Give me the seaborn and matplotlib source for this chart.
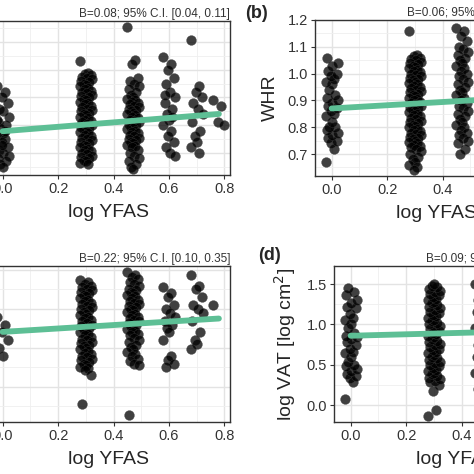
import matplotlib
matplotlib.use("Agg")
import matplotlib.pyplot as plt
from matplotlib.ticker import AutoMinorLocator, MultipleLocator, FormatStrFormatter
import seaborn as sns
import pandas as pd

# log YFAS group centres and per-group outcome values
yfas_levels = [0.0, 0.30, 0.47, 0.60, 0.70, 0.78]

bmi_groups = [
    [1.44, 1.42, 1.40, 1.38, 1.36, 1.35, 1.33, 1.31, 1.30, 1.29, 1.27, 1.26, 1.25,
     1.24, 1.22, 1.21, 1.20, 1.19, 1.18, 1.17, 1.16, 1.15, 1.32, 1.28, 1.23],
    [1.53, 1.49, 1.485, 1.48, 1.475, 1.47, 1.465, 1.46, 1.455, 1.45, 1.445, 1.44, 1.435,
     1.43, 1.425, 1.42, 1.415, 1.41, 1.405, 1.40, 1.395, 1.39, 1.385, 1.38, 1.375,
     1.37, 1.365, 1.36, 1.355, 1.35, 1.345, 1.34, 1.335, 1.33, 1.325, 1.32, 1.315,
     1.31, 1.305, 1.30, 1.295, 1.29, 1.285, 1.28, 1.275, 1.27, 1.265, 1.26, 1.255,
     1.25, 1.245, 1.24, 1.235, 1.23, 1.225, 1.22, 1.215, 1.21, 1.205, 1.20, 1.195,
     1.19, 1.185, 1.18, 1.175, 1.17, 1.165, 1.16],
    [1.655, 1.535, 1.52, 1.47, 1.46, 1.45, 1.44, 1.43, 1.42, 1.41, 1.40, 1.395, 1.39,
     1.385, 1.38, 1.375, 1.37, 1.365, 1.36, 1.355, 1.35, 1.345, 1.34, 1.335, 1.33,
     1.325, 1.32, 1.315, 1.31, 1.305, 1.30, 1.295, 1.29, 1.285, 1.28, 1.275, 1.27,
     1.265, 1.26, 1.255, 1.25, 1.245, 1.24, 1.235, 1.23, 1.225, 1.22, 1.21, 1.20,
     1.19, 1.18, 1.17, 1.16, 1.15, 1.14],
    [1.545, 1.52, 1.50, 1.47, 1.45, 1.42, 1.40, 1.38, 1.36, 1.34, 1.32, 1.30, 1.28,
     1.26, 1.24, 1.22, 1.20, 1.19, 1.41, 1.33],
    [1.607, 1.44, 1.42, 1.40, 1.38, 1.36, 1.34, 1.31, 1.28, 1.26, 1.24, 1.22, 1.20],
    [1.39, 1.37, 1.31, 1.30],
]

whr_groups = [
    [0.67, 0.72, 0.74, 0.75, 0.76, 0.77, 0.78, 0.79, 0.80, 0.80, 0.82, 0.84, 0.85,
     0.86, 0.87, 0.88, 0.89, 0.90, 0.91, 0.92, 0.94, 0.96, 0.97, 0.98, 0.99, 1.00,
     1.01, 1.03, 1.04, 1.06],
    [1.16, 1.07, 1.065, 1.06, 1.055, 1.05, 1.045, 1.04, 1.035, 1.03, 1.025, 1.02,
     1.015, 1.01, 1.005, 1.00, 0.995, 0.99, 0.985, 0.98, 0.975, 0.97, 0.965, 0.96,
     0.955, 0.95, 0.945, 0.94, 0.935, 0.93, 0.925, 0.92, 0.915, 0.91, 0.905, 0.90,
     0.895, 0.89, 0.885, 0.88, 0.875, 0.87, 0.865, 0.86, 0.855, 0.85, 0.845, 0.84,
     0.835, 0.83, 0.825, 0.82, 0.815, 0.81, 0.805, 0.80, 0.795, 0.79, 0.785, 0.78,
     0.775, 0.77, 0.765, 0.76, 0.755, 0.75, 0.745, 0.74, 0.735, 0.73, 0.725, 0.72,
     0.71, 0.70, 0.69, 0.68, 0.67, 0.66, 0.65, 0.64],
    [1.17, 1.16, 1.14, 1.12, 1.10, 1.09, 1.08, 1.07, 1.06, 1.05, 1.04, 1.03, 1.02,
     1.01, 1.00, 0.99, 0.98, 0.97, 0.96, 0.95, 0.94, 0.93, 0.92, 0.91, 0.90, 0.89,
     0.88, 0.87, 0.86, 0.85, 0.84, 0.83, 0.82, 0.81, 0.80, 0.79, 0.78, 0.77, 0.76,
     0.75, 0.74, 0.72, 0.70],
    [], [], [],
]

sat_groups = [
    [2.9, 2.8, 2.7, 2.6, 2.5, 2.4],
    [3.37, 3.34, 3.32, 3.30, 3.28, 3.26, 3.24, 3.22, 3.20, 3.18, 3.16, 3.14, 3.12,
     3.10, 3.08, 3.06, 3.04, 3.02, 3.00, 2.98, 2.96, 2.94, 2.92, 2.90, 2.88, 2.86,
     2.84, 2.82, 2.80, 2.78, 2.76, 2.74, 2.72, 2.70, 2.68, 2.66, 2.64, 2.62, 2.60,
     2.58, 2.56, 2.54, 2.52, 2.50, 2.48, 2.46, 2.44, 2.42, 2.40, 2.38, 2.36, 2.34,
     2.32, 2.30, 2.28, 2.26, 2.24, 2.22, 2.15, 1.78],
    [3.47, 3.44, 3.41, 3.38, 3.35, 3.32, 3.29, 3.26, 3.24, 3.22, 3.20, 3.18, 3.16,
     3.14, 3.12, 3.10, 3.08, 3.06, 3.04, 3.02, 3.00, 2.98, 2.96, 2.94, 2.92, 2.90,
     2.88, 2.86, 2.84, 2.82, 2.80, 2.78, 2.76, 2.74, 2.72, 2.70, 2.68, 2.66, 2.63,
     2.60, 2.57, 2.54, 2.51, 2.48, 2.45, 2.42, 2.39, 2.36, 2.33, 2.30, 2.28, 1.64],
    [3.28, 3.20, 3.15, 3.05, 3.00, 2.95, 2.90, 2.85, 2.80, 2.75, 2.70, 2.60, 2.40,
     2.35, 2.30, 2.26],
    [3.43, 3.30, 3.25, 3.15, 3.05, 3.00, 2.95, 2.85, 2.70, 2.60, 2.55, 2.49],
    [3.05],
]

vat_groups = [
    [0.07, 0.28, 0.33, 0.36, 0.38, 0.42, 0.45, 0.48, 0.50, 0.53, 0.60, 0.64, 0.66,
     0.70, 0.74, 0.78, 0.82, 0.84, 0.86, 0.90, 0.95, 1.00, 1.05, 1.08, 1.13, 1.20,
     1.22, 1.26, 1.30, 1.36, 1.40, 1.45],
    [-0.13, -0.06, 0.18, 0.25, 0.28, 0.30, 0.32, 0.34, 0.36, 0.38, 0.40, 0.42, 0.44,
     0.46, 0.48, 0.50, 0.52, 0.54, 0.56, 0.58, 0.60, 0.62, 0.64, 0.66, 0.68, 0.70,
     0.72, 0.74, 0.76, 0.78, 0.80, 0.82, 0.84, 0.86, 0.88, 0.90, 0.92, 0.94, 0.96,
     0.98, 1.00, 1.02, 1.04, 1.06, 1.08, 1.10, 1.12, 1.14, 1.16, 1.18, 1.20, 1.22,
     1.24, 1.26, 1.28, 1.30, 1.32, 1.34, 1.36, 1.38, 1.40, 1.42, 1.44, 1.46, 1.48,
     1.50],
    [1.50, 1.45, 1.40, 1.35, 1.30, 1.25, 1.20, 1.15, 1.10, 1.05, 1.00, 0.95, 0.90,
     0.85, 0.80, 0.75, 0.70, 0.65, 0.60, 0.55, 0.50, 0.45, 0.40, 0.35, 0.30, 0.25,
     0.20],
    [], [], [],
]

# horizontal spread of the points around each YFAS level
jitter = [-0.02, 0.008, -0.004, 0.018, -0.012, 0.003, 0.022, -0.016, 0.012, -0.008, 0.0]

# regression lines: (intercept, slope)
fits = {"a": (1.278, 0.08), "b": (0.87, 0.06), "c": (2.705, 0.22), "d": (0.86, 0.09)}
titles = {
    "a": "B=0.08; 95% C.I. [0.04, 0.11]",
    "b": "B=0.06; 95% C.I. [0.03, 0.09]",
    "c": "B=0.22; 95% C.I. [0.10, 0.35]",
    "d": "B=0.09; 95% C.I. [0.01, 0.17]",
}
ylabels = {"a": "log BMI", "b": "WHR", "c": "log SAT", "d": r"log VAT [log cm$^2$]"}
fit_x = [0.0, 0.78]


def to_frame(groups):
    rows = []
    for level, ys in zip(yfas_levels, groups):
        for i, y in enumerate(ys):
            rows.append({"yfas": level + jitter[i % len(jitter)], "value": y})
    return pd.DataFrame(rows)


sns.set_theme(style="white")
plt.rcParams["font.family"] = ["Liberation Sans", "DejaVu Sans"]

W = 474
fig = plt.figure(figsize=(4.74, 4.74), dpi=100)


def px_axes(left, top, right, bottom):
    return fig.add_axes([left / W, 1 - bottom / W, (right - left) / W, (bottom - top) / W])


panels = {
    "a": (px_axes(-14, 21, 230, 175), bmi_groups, (1.12, 1.676), 0.1),
    "b": (px_axes(315, 20, 559, 176), whr_groups, (0.618, 1.2), 0.1),
    "c": (px_axes(-14, 266, 230, 422), sat_groups, (1.55, 3.55), 0.5),
    "d": (px_axes(334, 266, 578, 422), vat_groups, (-0.21, 1.725), 0.5),
}

for key, (ax, groups, ylim, ystep) in panels.items():
    df = to_frame(groups)
    sns.scatterplot(data=df, x="yfas", y="value", ax=ax, color="black", alpha=0.75,
                    s=50, edgecolor="#444444", linewidth=0.3, zorder=3)
    b0, b1 = fits[key]
    sns.lineplot(x=fit_x, y=[b0 + b1 * x for x in fit_x], ax=ax, color="#5dbf95",
                 linewidth=4.2, zorder=4)
    ax.set_xlim(-0.06, 0.82)
    ax.set_ylim(*ylim)
    ax.xaxis.set_major_locator(MultipleLocator(0.2))
    ax.yaxis.set_major_locator(MultipleLocator(ystep))
    ax.xaxis.set_minor_locator(AutoMinorLocator(2))
    ax.yaxis.set_minor_locator(AutoMinorLocator(2))
    ax.grid(which="major", color="#e3e3e3", linewidth=1.0, zorder=0)
    ax.grid(which="minor", color="#efefef", linewidth=0.6, zorder=0)
    ax.set_axisbelow(True)
    for sp in ax.spines.values():
        sp.set_color("#333333")
        sp.set_linewidth(1.0)
    ax.tick_params(axis="both", which="major", direction="out", length=3, width=0.8,
                   color="#333333", labelsize=10.5, labelcolor="#333333", pad=2,
                   bottom=True, left=True)
    ax.tick_params(which="minor", length=0)
    ax.xaxis.set_major_formatter(FormatStrFormatter("%.1f"))
    ax.yaxis.set_major_formatter(FormatStrFormatter("%.1f"))
    ax.set_xlabel("log YFAS", fontsize=14, labelpad=6)
    ax.set_ylabel(ylabels[key], fontsize=14, labelpad=6)
    ax.set_title(titles[key], loc="right", fontsize=8.5, color="#333333", pad=3)

fig.text(245 / W, 1 - 14 / W, "(b)", fontsize=13, fontweight="bold", va="center")
fig.text(258 / W, 1 - 256 / W, "(d)", fontsize=13, fontweight="bold", va="center")

fig.savefig("out.png", dpi=100)
